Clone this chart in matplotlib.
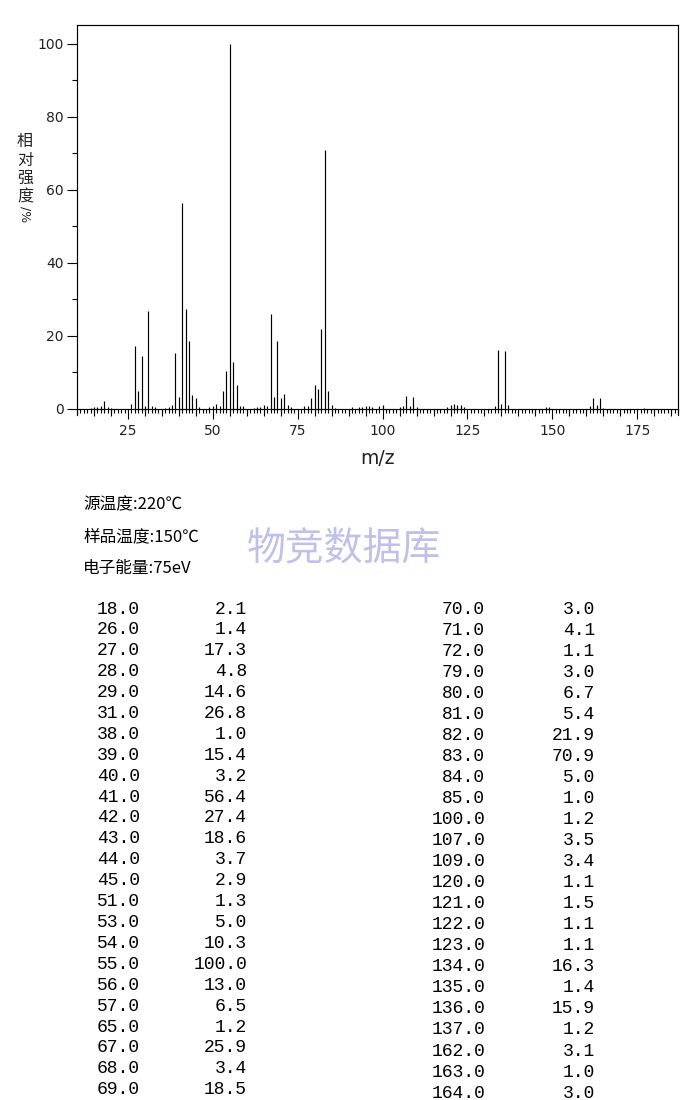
import matplotlib
matplotlib.use("Agg")
import matplotlib.pyplot as plt
from matplotlib.ticker import MultipleLocator

# ---- data ----
mz_listed = [18, 26, 27, 28, 29, 31, 38, 39, 40, 41, 42, 43, 44, 45, 51, 53, 54, 55,
             56, 57, 65, 67, 68, 69, 70, 71, 72, 79, 80, 81, 82, 83, 84, 85, 100, 107,
             109, 120, 121, 122, 123, 134, 135, 136, 137, 162, 163, 164]
int_listed = [2.1, 1.4, 17.3, 4.8, 14.6, 26.8, 1.0, 15.4, 3.2, 56.4, 27.4, 18.6, 3.7,
              2.9, 1.3, 5.0, 10.3, 100.0, 13.0, 6.5, 1.2, 25.9, 3.4, 18.5, 3.0, 4.1,
              1.1, 3.0, 6.7, 5.4, 21.9, 70.9, 5.0, 1.0, 1.2, 3.5, 3.4, 1.1, 1.5, 1.1,
              1.1, 16.3, 1.4, 15.9, 1.2, 3.1, 1.0, 3.0]
# small unlisted peaks (<1 %), estimated from the plot
mz_small = [14, 15, 16, 17, 19, 20, 30, 32, 33, 36, 37, 46, 49, 50, 52, 58, 59, 62,
            63, 64, 66, 73, 77, 78, 86, 91, 93, 94, 95, 96, 97, 99, 105, 106, 108,
            110, 119, 124, 133, 148, 149, 161, 165, 177]
int_small = [0.4, 0.6, 0.5, 0.8, 0.6, 0.3, 0.9, 0.7, 0.5, 0.4, 0.6, 0.6, 0.5, 0.9,
             0.8, 0.9, 0.7, 0.4, 0.5, 0.6, 0.9, 0.5, 0.7, 0.9, 0.4, 0.5, 0.6, 0.6,
             0.8, 0.8, 0.6, 0.7, 0.5, 0.8, 0.9, 0.5, 0.5, 0.5, 0.7, 0.5, 0.5, 0.7,
             0.4, 0.4]

x_major_ticks = [25, 50, 75, 100, 125, 150, 175]
y_major_ticks = [0, 20, 40, 60, 80, 100]

info_lines = ["源温度:220℃", "样品温度:150℃", "电子能量:75eV"]
watermark = "物竞数据库"
ylabel_chars = ["相", "对", "强", "度"]

W, H = 687, 1100
fig = plt.figure(figsize=(W / 100, H / 100), dpi=100)

ymin, ymax = -1.6, 105.2
left_px, right_px, top_px = 77, 678, 25
bottom_px = 409 + 1.6 * 3.65
ax = fig.add_axes([left_px / W, 1 - bottom_px / H, (right_px - left_px) / W,
                   (bottom_px - top_px) / H])
ax.vlines(mz_listed, 0, int_listed, color="black", linewidth=0.85)
ax.vlines(mz_small, 0, int_small, color="black", linewidth=0.85)
ax.set_xlim(10, 187)
ax.set_ylim(ymin, ymax)

ax.spines["bottom"].set_position(("data", 0))
for s in ax.spines.values():
    s.set_linewidth(0.85)
    s.set_color("black")

ax.set_xticks(x_major_ticks)
ax.xaxis.set_minor_locator(MultipleLocator(1))
ax.tick_params(axis="x", which="major", length=7.5, width=0.8, direction="out",
               labelsize=10, pad=3.5, labelcolor="#222222")
ax.tick_params(axis="x", which="minor", length=3.0, width=0.8, direction="out")
ax.set_yticks(y_major_ticks)
ax.yaxis.set_minor_locator(MultipleLocator(10))
ax.tick_params(axis="y", which="major", length=7.2, width=0.8, direction="out",
               labelsize=10, pad=2.5, labelcolor="#222222")
ax.tick_params(axis="y", which="minor", length=3.6, width=0.8, direction="out")

# medium ticks every 5 units
sec = ax.secondary_xaxis((0 - ymin) / (ymax - ymin))
sec.set_xticks([v for v in range(15, 187, 5) if v % 25 != 0])
sec.set_xticklabels([])
sec.tick_params(axis="x", which="major", length=5.0, width=0.8, direction="out")
sec.xaxis.set_minor_locator(plt.NullLocator())
sec.spines["bottom"].set_visible(False)

fig.text(377 / W, 1 - 458 / H, "m/z", ha="center", va="center", fontsize=13.5,
         color="#222222")

# y label stacked
ys = [141, 160, 178, 197]
for ch, yy in zip(ylabel_chars, ys):
    fig.text(25 / W, 1 - yy / H, ch, ha="center", va="center", fontsize=11.5,
             family=["Noto Sans CJK SC", "DejaVu Sans"], color="#222222")
fig.text(25 / W, 1 - 214 / H, "/%", ha="center", va="center", fontsize=9,
         rotation=-90, color="#222222")

# info lines
for i, line in enumerate(info_lines):
    fig.text(83 / W, 1 - (505 + 31.5 * i) / H, line, ha="left", va="center",
             fontsize=12, family=["Noto Sans CJK SC", "DejaVu Sans"], color="black")

fig.text(344 / W, 1 - 550 / H, watermark, ha="center", va="center", fontsize=28,
         family=["Noto Sans CJK SC"], color="#c0c0ea")

# table
n = 24
mono = "Liberation Mono"
fs = 13
for i in range(n):
    y = 1 - (609 + 20.9 * i) / H
    fig.text(140 / W, y, f"{mz_listed[i]:.1f}", ha="right", va="center",
             fontsize=fs, family=mono)
    fig.text(247 / W, y, f"{int_listed[i]:.1f}", ha="right", va="center",
             fontsize=fs, family=mono)
for i in range(n):
    y = 1 - (609 + 21.05 * i) / H
    fig.text(485 / W, y, f"{mz_listed[n + i]:.1f}", ha="right", va="center",
             fontsize=fs, family=mono)
    fig.text(595 / W, y, f"{int_listed[n + i]:.1f}", ha="right", va="center",
             fontsize=fs, family=mono)

fig.savefig("out.png", dpi=100)
